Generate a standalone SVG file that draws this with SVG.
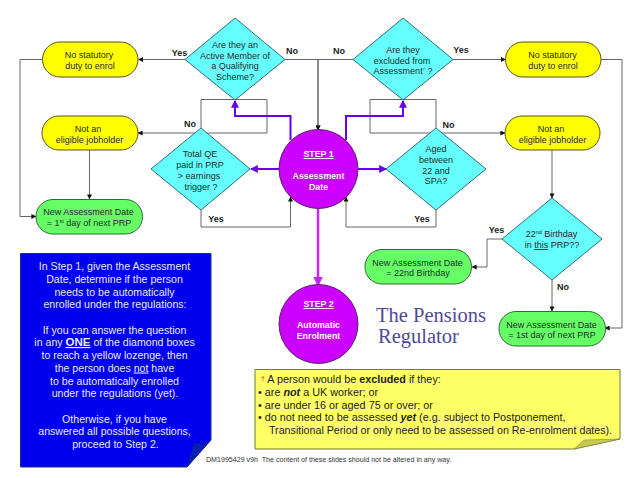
<svg xmlns="http://www.w3.org/2000/svg" width="638" height="478" viewBox="0 0 638 478">
<style>
text{font-family:"Liberation Sans",Arial,sans-serif;text-anchor:middle}
.t{font-size:9px;fill:#1c2a2a}
.l{font-size:9px;font-weight:bold;fill:#222}
.y{fill:#ffff00;stroke:#555520;stroke-width:1}
.g{fill:#66ff66;stroke:#2f6b3a;stroke-width:1}
.d{fill:#66ffff;stroke:#2f6f78;stroke-width:1}
.c{fill:#cc00ff;stroke:#552266;stroke-width:1}
.w{font-size:8.800px;font-weight:bold;fill:#fff}
.k{fill:none;stroke:#666;stroke-width:1}
.p{fill:none;stroke:#6600ee;stroke-width:2}
.b{font-size:10.600px;fill:#e8e8ff}
.n{font-size:10.800px;fill:#222;text-anchor:start}
.r{font-family:"Liberation Serif",serif;font-size:20.500px;fill:#4f4a96;text-anchor:start}
</style>
<defs>
<marker id="a" markerWidth="5" markerHeight="5" refX="4.600" refY="2.500" orient="auto" markerUnits="userSpaceOnUse"><path d="M0 0L5 2.500L0 5z" fill="#111"/></marker>
<marker id="m" markerWidth="4" markerHeight="4" refX="3.400" refY="2" orient="auto"><path d="M0 0L4 2L0 4z" fill="#6600ee"/></marker>
<marker id="q" markerWidth="4" markerHeight="4" refX="3.400" refY="2" orient="auto"><path d="M0 0L4 2L0 4z" fill="#cc22ee"/></marker>
</defs>
<rect width="638" height="478" fill="#fff"/>
<g id="connectors">
<path class="k" marker-end="url(#a)" d="M185 59.500H138.500"/>
<path class="k" marker-end="url(#a)" d="M42.500 59.500H20V216.500H36"/>
<path class="k" marker-end="url(#a)" d="M285 59.500H318V130"/>
<path class="k" marker-end="url(#a)" d="M353 59.500H318V130"/>
<path class="k" marker-end="url(#a)" d="M453 59.500H505.500"/>
<path class="k" marker-end="url(#a)" d="M601 59.500H622V328H605"/>
<path class="k" marker-end="url(#a)" d="M201 128V99.500H267V133H138"/>
<path class="k" marker-end="url(#a)" d="M436 128V99.500H370V133H505"/>
<path class="k" marker-end="url(#a)" d="M89.500 150V199"/>
<path class="k" marker-end="url(#a)" d="M552 150V198"/>
<path class="k" marker-end="url(#a)" d="M552 280V311"/>
<path class="k" marker-end="url(#a)" d="M502 239H487V267H472"/>
<path class="k" marker-end="url(#a)" d="M201 210V227H290.500V197"/>
<path class="k" marker-end="url(#a)" d="M436 210V227H346V197"/>
<path class="p" marker-end="url(#m)" d="M290.500 140V116H235V101"/>
<path class="p" marker-end="url(#m)" d="M346 140V116H403V101"/>
<path class="p" marker-end="url(#m)" d="M279 169H251"/>
<path class="p" marker-end="url(#m)" d="M358 169H386"/>
<path fill="none" stroke="#cc22ee" stroke-width="2.500" marker-end="url(#q)" d="M318 208V285"/>
</g>
<g id="no-duty-left"><rect class="y" x="42.500" y="42" width="95.500" height="35" rx="17.500"/><text class="t" x="89" y="58">No statutory</text><text class="t" x="90" y="69">duty to enrol</text></g>
<g id="not-eligible-left"><rect class="y" x="42" y="116" width="96" height="34" rx="17"/><text class="t" x="88" y="132">Not an</text><text class="t" x="89.500" y="143">eligible jobholder</text></g>
<g id="new-date-left"><rect class="g" x="36" y="199.500" width="106.500" height="34.500" rx="17"/><text class="t" x="88.500" y="215">New Assessment Date</text><text class="t" x="89" y="226">= 1<tspan font-size="5.500" dy="-3">st</tspan><tspan dy="3"> day of next PRP</tspan></text></g>
<g id="active-member"><path class="d" d="M235 18L285 59.500L235 100L185 59.500z"/><text class="t" x="235" y="48">Are they an</text><text class="t" x="235" y="58.500">Active Member of</text><text class="t" x="235" y="69">a Qualifying</text><text class="t" x="235" y="79.500">Scheme?</text></g>
<g id="excluded"><path class="d" d="M403 18L453 59.500L403 100L353 59.500z"/><text class="t" x="403" y="53">Are they</text><text class="t" x="402" y="63.500">excluded from</text><text class="t" x="403" y="74">Assessment<tspan font-size="4" dy="-3">†</tspan><tspan dy="3"> ?</tspan></text></g>
<g id="total-qe"><path class="d" d="M201 128L250 169L201 210L151 169z"/><text class="t" x="200" y="157">Total QE</text><text class="t" x="200" y="168">paid in PRP</text><text class="t" x="199" y="179">&gt; earnings</text><text class="t" x="201" y="189.500">trigger ?</text></g>
<g id="aged"><path class="d" d="M436 128L486 169L436 210L386 169z"/><text class="t" x="436" y="152">Aged</text><text class="t" x="436" y="163">between</text><text class="t" x="436" y="173.500">22 and</text><text class="t" x="436" y="184">SPA?</text></g>
<g id="step1"><circle class="c" cx="318.500" cy="169" r="39.500"/><text class="w" x="318.500" y="157" text-decoration="underline">STEP 1</text><text class="w" x="318.500" y="179">Assessment</text><text class="w" x="318.500" y="189.500">Date</text></g>
<g id="step2"><circle class="c" cx="318.500" cy="324" r="39.500"/><text class="w" x="318.500" y="307" text-decoration="underline">STEP 2</text><text class="w" x="318.500" y="328">Automatic</text><text class="w" x="318.500" y="338.500">Enrolment</text></g>
<g id="no-duty-right"><rect class="y" x="505.500" y="42" width="95.500" height="35" rx="17.500"/><text class="t" x="552.500" y="58">No statutory</text><text class="t" x="553" y="69">duty to enrol</text></g>
<g id="not-eligible-right"><rect class="y" x="505" y="116" width="95" height="34" rx="17"/><text class="t" x="551" y="132">Not an</text><text class="t" x="552.500" y="143">eligible jobholder</text></g>
<g id="birthday"><path class="d" d="M552 198L602 239L552 280L502 239z"/><text class="t" x="551.500" y="237">22<tspan font-size="5.500" dy="-3">nd</tspan><tspan dy="3"> Birthday</tspan></text><text class="t" x="552" y="248">in <tspan text-decoration="underline">this</tspan> PRP??</text></g>
<g id="new-date-birthday"><rect class="g" x="365" y="249.500" width="106.500" height="34.500" rx="17"/><text class="t" x="417.500" y="265.500">New Assessment Date</text><text class="t" x="418" y="276">= 22nd Birthday</text></g>
<g id="new-date-right"><rect class="g" x="499" y="311.500" width="106.500" height="34.500" rx="17"/><text class="t" x="551.500" y="327.500">New Assessment Date</text><text class="t" x="552" y="338">= 1st day of next PRP</text></g>
<g id="labels">
<text class="l" x="179.500" y="55.500">Yes</text><text class="l" x="292" y="54">No</text><text class="l" x="339" y="54">No</text><text class="l" x="461" y="53">Yes</text>
<text class="l" x="190" y="126.500">No</text><text class="l" x="448.500" y="127.500">No</text>
<text class="l" x="216" y="222">Yes</text><text class="l" x="422" y="222">Yes</text>
<text class="l" x="496.500" y="233">Yes</text><text class="l" x="563" y="290">No</text>
</g>
<g id="logo"><text class="r" x="376" y="322">The Pensions</text><text class="r" x="378" y="342.500">Regulator</text></g>
<g id="blue-note">
<path d="M20.500 253.500H211V440L187 467H20.500z" fill="#0000ee" stroke="#1a2a8a"/>
<path d="M211 440L187 467L194 443Q203 445 211 440z" fill="#0a1fb0"/>
<text class="b" x="114.500" y="270">In Step 1, given the Assessment</text>
<text class="b" x="114.500" y="282.500">Date, determine if the person</text>
<text class="b" x="114.500" y="295.500">needs to be automatically</text>
<text class="b" x="115" y="308">enrolled under the regulations:</text>
<text class="b" x="114.500" y="333.500">If you can answer the question</text>
<text class="b" x="114.500" y="346">in any <tspan font-weight="bold" font-size="11.500" text-decoration="underline">ONE</tspan> of the diamond boxes</text>
<text class="b" x="114.500" y="359">to reach a yellow lozenge, then</text>
<text class="b" x="114.500" y="371.500">the person does <tspan text-decoration="underline">not</tspan> have</text>
<text class="b" x="114.500" y="384.500">to be automatically enrolled</text>
<text class="b" x="115" y="397">under the regulations (yet).</text>
<text class="b" x="114.500" y="422.500">Otherwise, if you have</text>
<text class="b" x="114.500" y="435">answered all possible questions,</text>
<text class="b" x="115.500" y="448">proceed to Step 2.</text>
</g>
<g id="yellow-note">
<path d="M255 369.500H620V439L574 449H255z" fill="#ffff66" stroke="#77773a"/>
<path d="M620 439L574 449L584 440z" fill="#c8c850" stroke="#77773a" stroke-width=".5"/>
<text class="n" x="261" y="383"><tspan font-size="7" dy="-2" fill="#e22">†</tspan><tspan dy="2"> A person would be </tspan><tspan font-weight="bold">excluded</tspan> if they:</text>
<text class="n" x="258" y="396">• are <tspan font-weight="bold" font-style="italic">not</tspan> a UK worker; or</text>
<text class="n" x="258" y="408.500">• are under 16 or aged 75 or over; or</text>
<text class="n" x="258" y="421">• do not need to be assessed <tspan font-weight="bold" font-style="italic">yet</tspan> (e.g. subject to Postponement,</text>
<text class="n" x="269" y="434" style="font-size:10.680px">Transitional Period or only need to be assessed on Re-enrolment dates).</text>
</g>
<text x="206" y="461.500" style="font-size:7.080px;text-anchor:start" fill="#333">DM1995429 v9h&#160; The content of these slides should not be altered in any way.</text>
</svg>
